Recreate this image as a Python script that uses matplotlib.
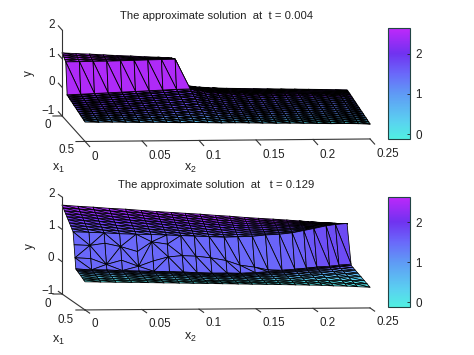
import matplotlib
matplotlib.use('Agg')
import matplotlib.pyplot as plt
from matplotlib.cm import ScalarMappable
from matplotlib.colors import LinearSegmentedColormap, Normalize
from mpl_toolkits.mplot3d import proj3d
from mpl_toolkits.mplot3d.art3d import Poly3DCollection
import numpy as np

plt.rcParams['font.family'] = ['Liberation Sans', 'DejaVu Sans']

W, H = 474, 355
TICK_SIZE = 8.4
LINE = '#333333'

# colour scale
cbar_vals = [-0.12, 0.3, 1.0, 1.5, 2.0, 2.62]
cbar_rgb = ['#50f0e1', '#5ad2f0', '#5f9af5', '#6a68fa', '#7032f0', '#be28fa']
cbar_ticks = [0, 1, 2]

x1_ticks = [0, 0.5]
x2_ticks = [0, 0.05, 0.1, 0.15, 0.2, 0.25]
x2_labels = ['0', '0.05', '0.1', '0.15', '0.2', '0.25']
y_ticks = [-1, 0, 1, 2]
y_labels = ['\u22121', '0', '1', '2']

# ---- t = 0.004 ----
title_top = 'The approximate solution  at  t = 0.004'
x2_cols_top = [0, 0.012, 0.024, 0.036, 0.048, 0.06, 0.072, 0.084, 0.096, 0.108, 0.12,
               0.132, 0.144, 0.156, 0.168, 0.18, 0.192, 0.204, 0.216, 0.228, 0.24, 0.25]
x1_rows_top = [0, 0.02, 0.04, 0.06, 0.08, 0.11, 0.14, 0.17, 0.2, 0.23, 0.26, 0.29,
               0.32, 0.35, 0.38, 0.41, 0.44, 0.47, 0.5]
# raised plateau (first rows, first columns)
plateau_top = [
    [1.2, 1.17, 1.15, 1.12, 1.09, 1.07, 1.04, 1.02, 0.99],
    [1.16, 1.14, 1.12, 1.10, 1.08, 1.06, 1.04, 1.02, 1.01],
    [1.12, 1.11, 1.09, 1.08, 1.07, 1.06, 1.05, 1.04, 1.03],
    [1.07, 1.07, 1.06, 1.06, 1.06, 1.06, 1.06, 1.06, 1.06],
    [1.03, 1.03, 1.04, 1.04, 1.05, 1.06, 1.07, 1.08, 1.09],
]
back_top = [0, 0, 0, 0, 0, 0, 0, 0, 0, 0.02, -0.04, -0.07, -0.09, -0.1, -0.11, -0.12,
            -0.13, -0.14, -0.15, -0.16, -0.17, -0.18]
foot_top = [-0.07, -0.05, -0.03, -0.01, 0.01, 0.03, 0.05, 0.07, 0.09, 0.1, 0.0, -0.06,
            -0.1, -0.13, -0.14, -0.15, -0.16, -0.17, -0.18, -0.19, -0.2, -0.24]
front_top = [-0.32, -0.33, -0.33, -0.34, -0.35, -0.35, -0.36, -0.37, -0.37, -0.38, -0.39,
             -0.39, -0.4, -0.41, -0.42, -0.42, -0.43, -0.44, -0.45, -0.45, -0.46, -0.48]
u_rows_top = [2.1, 2.1, 2.1, 2.1, 2.1, 2.3, 2.1, 2.05, 2.0, 1.95, 1.9, 1.85, 1.8,
              1.7, 1.6, 1.45, 1.2, 0.9, 0.6]
u_plateau_top = 2.5
u_fade_top = [0, 0, 0, 0, 0.05, 0.05, 0.1, 0.1, 0.15, 0.2, 0.2, 0.25, 0.3, 0.35, 0.4,
              0.45, 0.5, 0.55, 0.6, 0.6, 0.65, 0.7]

# ---- t = 0.129 ----
title_bot = 'The approximate solution  at   t = 0.129'
x2_cols_bot = [0, 0.0139, 0.0272, 0.0412, 0.0557, 0.0693, 0.0829, 0.0956, 0.108, 0.121,
               0.1346, 0.147, 0.16, 0.172, 0.185, 0.197, 0.208, 0.218, 0.23, 0.239, 0.25]
ridge_bot = [1.75, 1.71, 1.68, 1.64, 1.61, 1.57, 1.53, 1.5, 1.47, 1.44, 1.4, 1.37, 1.33,
             1.3, 1.27, 1.24, 1.21, 1.18, 1.15, 1.13, 1.1]
shoulder_x1 = [0.24, 0.24, 0.24, 0.23, 0.23, 0.22, 0.22, 0.21, 0.2, 0.2, 0.19, 0.18, 0.17,
               0.16, 0.14, 0.12, 0.1, 0.07, 0.04, 0.02, 0.0]
shoulder_bot = [1.16, 1.14, 1.12, 1.08, 1.06, 1.04, 1.02, 0.99, 0.96, 0.94, 0.91, 0.91,
                0.91, 0.94, 0.94, 0.96, 1.01, 1.04, 1.09, 1.11, 1.12]
foot_x1 = [0.3, 0.3, 0.3, 0.29, 0.29, 0.28, 0.28, 0.27, 0.26, 0.26, 0.25, 0.24, 0.23,
           0.22, 0.2, 0.18, 0.16, 0.14, 0.12, 0.1, 0.09]
foot_bot = [0.07, 0.04, 0.03, 0, -0.02, -0.04, -0.05, -0.08, -0.11, -0.13, -0.14, -0.16,
            -0.15, -0.14, -0.15, -0.14, -0.13, -0.12, -0.12, -0.11, -0.09]
front_bot = [-0.13, -0.14, -0.15, -0.16, -0.17, -0.18, -0.19, -0.2, -0.21, -0.22, -0.23,
             -0.24, -0.25, -0.26, -0.27, -0.28, -0.29, -0.31, -0.32, -0.34, -0.36]
# where the mesh rows sit between ridge/shoulder, shoulder/foot and foot/front
upper_frac = [0, 0.11, 0.22, 0.33, 0.44, 0.55, 0.67, 0.78, 0.89, 1]
wall_a = [0.35, 0.35, 0.28, 0.35, 0.47, 0.2, 0.25, 0, 0, 0, 0, 0, 0,
          0, 0, 0, 0, 0, 0, 0, 0]
wall_b = [0.7, 0.7, 0.85, 0.72, 0.87, 0.72, 0.6, 0.55, 0.55, 0.58, 0.65, 0.78, 0.85, 0.95,
          0.97, 0.97, 0.97, 0.97, 0.97, 0.97, 0.97]
lower_frac = [0, 0.1, 0.22, 0.36, 0.52, 0.7, 0.85, 1]
u_upper_bot = [2.45, 2.35, 2.25, 2.15, 2.05, 1.95, 1.85, 1.75, 1.65, 1.6]
u_wall_bot = [1.5, 1.5, 1.5, 1.5, 1.5, 1.5, 1.5, 1.5, 1.5, 1.5, 1.5, 1.5, 1.5,
              1.5, 1.55, 1.55, 1.6, 1.7, 1.75, 1.75, 1.8]
u_lower_bot = [1.5, 1.3, 1.0, 0.7, 0.45, 0.25, 0.1, 0.0]


def axes_rect(left, top, width, height):
    return [left / W, 1 - (top + height) / H, width / W, height / H]


def build_top():
    x2 = np.array(x2_cols_top)
    x1 = np.array(x1_rows_top)
    z = np.zeros((len(x1), len(x2)))
    u = np.zeros(z.shape)
    for i in range(len(x1)):
        for j in range(len(x2)):
            if i < 5 and j < 9:
                z[i, j] = plateau_top[i][j]
            elif i <= 5:
                z[i, j] = back_top[j] + (foot_top[j] - back_top[j]) * x1[i] / 0.11
            else:
                z[i, j] = foot_top[j] + (front_top[j] - foot_top[j]) * (x1[i] - 0.11) / 0.39
            if i == 5 and j < 9:
                z[i, j] = foot_top[j]
            if i <= 5 and j <= 9:
                u[i, j] = u_plateau_top
            elif i <= 5:
                u[i, j] = u_rows_top[i]
            else:
                u[i, j] = u_rows_top[i] - u_fade_top[j]
    X1, X2 = np.meshgrid(x1, x2, indexing='ij')
    return X1, X2, z, u, []


def build_bot():
    n = len(x2_cols_bot)
    X1, Z, U = [], [], []
    for f, uval in zip(upper_frac, u_upper_bot):
        X1.append([f * shoulder_x1[j] for j in range(n)])
        Z.append([ridge_bot[j] + f * (shoulder_bot[j] - ridge_bot[j]) for j in range(n)])
        U.append([uval] * n)
    for frac in (wall_a, wall_b):
        X1.append([shoulder_x1[j] + frac[j] * (foot_x1[j] - shoulder_x1[j]) for j in range(n)])
        Z.append([shoulder_bot[j] + frac[j] * (foot_bot[j] - shoulder_bot[j]) for j in range(n)])
        U.append(list(u_wall_bot))
    for f, uval in zip(lower_frac, u_lower_bot):
        X1.append([foot_x1[j] + f * (0.5 - foot_x1[j]) for j in range(n)])
        Z.append([foot_bot[j] + f * (front_bot[j] - foot_bot[j]) for j in range(n)])
        U.append([uval] * n)
    # the first lower row carries the wall colour so the wall stays one flat blue
    U[len(upper_frac) + 2] = list(u_wall_bot)
    U[len(upper_frac) - 1] = list(u_wall_bot)
    X1 = np.array(X1)
    X2 = np.tile(np.array(x2_cols_bot), (X1.shape[0], 1))
    # wall cells with alternating diagonals on the left part
    first = len(upper_frac) - 1
    flip = [(i, j) for i in range(first, first + 3) for j in range(6) if (i + j) % 2 == 0]
    return X1, X2, np.array(Z), np.array(U), flip


def draw_surface(ax, X1, X2, Z, U, flip, cmap, norm, lw, plane_lw=None):
    groups = {True: ([], []), False: ([], [])}
    for i in range(X1.shape[0] - 1):
        for j in range(X1.shape[1] - 1):
            a = (i, j)
            b = (i, j + 1)
            c = (i + 1, j + 1)
            d = (i + 1, j)
            if (i, j) in flip:
                faces = [(a, b, d), (b, c, d)]
            else:
                faces = [(a, b, c), (a, c, d)]
            heavy = plane_lw is not None and (i >= 5 or j >= 9)
            for face in faces:
                groups[heavy][0].append([(X1[p], X2[p], Z[p]) for p in face])
                groups[heavy][1].append(np.mean([U[p] for p in face]))
    # the thick plane goes first, the wall on top of it
    for heavy in (True, False):
        tris, vals = groups[heavy]
        if not tris:
            continue
        poly = Poly3DCollection(tris, facecolors=cmap(norm(np.array(vals))), edgecolors='black',
                                linewidths=plane_lw if heavy else lw, zorder=1 if heavy else 1.1)
        ax.add_collection3d(poly)


def text_at(ax, x1, x2, y, s, ha):
    # project the anchor, so the label is a plain 2D text of this axes
    px, py, _ = proj3d.proj_transform(x1, x2, y, ax.get_proj())
    ax.text2D(px, py, s, transform=ax.transData, fontsize=TICK_SIZE, ha=ha, va='center',
              color='#222222')


def draw_box(ax, y_lab_z, x1_lab_z):
    kw = dict(color=LINE, lw=0.8, clip_on=False)
    ax.plot([0, 0.5], [0, 0], [-1, -1], **kw)
    ax.plot([0.5, 0.5], [0, 0.25], [-1, -1], **kw)
    ax.plot([0, 0], [0, 0], [-1, 2], **kw)
    for v, lab in zip(x2_ticks, x2_labels):
        ax.plot([0.5, 0.6], [v, v], [-1, -1], **kw)
        text_at(ax, 0.64, v, y_lab_z, lab, 'left')
    for v in x1_ticks:
        ax.plot([v, v], [0, -0.008], [-1, -1], **kw)
        text_at(ax, v, -0.0096, x1_lab_z, str(v), 'right')
    for v, lab in zip(y_ticks, y_labels):
        ax.plot([0, -0.08], [0, 0], [v, v], **kw)
        text_at(ax, -0.1, -0.0026, v, lab, 'right')


def panel(rect, elev, azim, aspect, mesh, y_lab_z, x1_lab_z, cmap, norm, lw, plane_lw=None):
    ax = fig.add_axes(axes_rect(*rect), projection='3d', proj_type='ortho')
    ax.computed_zorder = False
    ax.set_axis_off()
    ax.patch.set_visible(False)
    ax.view_init(elev=elev, azim=azim, roll=0)
    ax.set_box_aspect(aspect)
    ax.set_xlim(0, 0.5)
    ax.set_ylim(0, 0.25)
    ax.set_zlim(-1, 2)
    draw_surface(ax, *mesh, cmap, norm, lw, plane_lw)
    draw_box(ax, y_lab_z, x1_lab_z)
    return ax


def colorbar(top, bottom, vmin, vmax, cmap):
    cax = fig.add_axes(axes_rect(388, top, 22, bottom - top))
    sm = ScalarMappable(norm=Normalize(vmin, vmax), cmap=cmap)
    cb = fig.colorbar(sm, cax=cax, ticks=cbar_ticks)
    cb.outline.set_edgecolor('#224444')
    cb.outline.set_linewidth(0.8)
    cax.tick_params(labelsize=TICK_SIZE, length=2, width=0.6, direction='in', pad=4, colors='#222222')


fig = plt.figure(figsize=(W / 100, H / 100), dpi=100, facecolor='white')

lo, hi = cbar_vals[0], cbar_vals[-1]
stops = [(v - lo) / (hi - lo) for v in cbar_vals]
cmap = LinearSegmentedColormap.from_list('sol', list(zip(stops, cbar_rgb)))
norm = Normalize(lo, hi)

panel((18.6, -102.6, 384.5, 384.5), 5.66, -5.08, (260, 286.1, 86.4), build_top(),
      -1.29, -1.31, cmap, norm, 0.6, 0.78)
panel((26.6, 73.0, 368.9, 368.9), 4.0, -5.73, (230, 286.4, 97.2), build_bot(),
      -1.3, -1.3, cmap, norm, 0.55)

colorbar(28.5, 139, lo, hi, cmap)
colorbar(196.7, 307.3, -0.125, 2.64, cmap)


def label(x, y, s, **kw):
    fig.text(x / W, 1 - y / H, s, ha='center', va='center', color='#222222', **kw)


label(216, 16, title_top, fontsize=8.1)
label(216, 185, title_bot, fontsize=8.1)
label(29, 73, 'y', fontsize=TICK_SIZE, rotation=90)
label(30, 246, 'y', fontsize=TICK_SIZE, rotation=90)
label(58, 168, r'$\mathregular{x_1}$', fontsize=TICK_SIZE + 0.6)
label(190, 168, r'$\mathregular{x_2}$', fontsize=TICK_SIZE + 0.6)
label(58, 340, r'$\mathregular{x_1}$', fontsize=TICK_SIZE + 0.6)
label(190, 337, r'$\mathregular{x_2}$', fontsize=TICK_SIZE + 0.6)

fig.savefig('out.png', dpi=100)
